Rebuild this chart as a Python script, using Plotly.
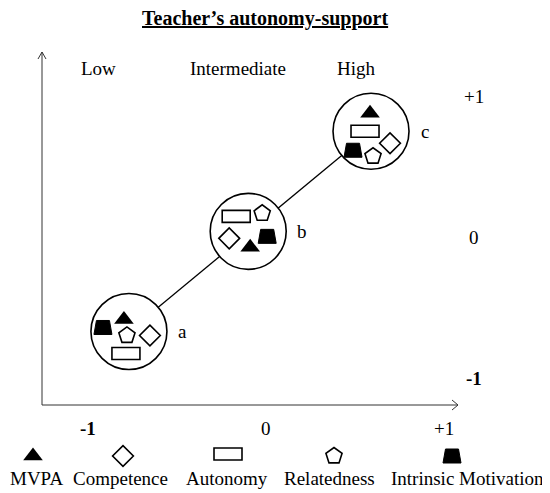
import plotly.graph_objects as go

# three profiles placed on the -1..+1 grid
profiles = ["a", "b", "c"]
levels = ["Low", "Intermediate", "High"]
profile_x = [-0.77, -0.10, 0.59]
profile_y = [-0.67, 0.04, 0.75]

measures = ["MVPA", "Competence", "Autonomy", "Relatedness", "Intrinsic Motivation"]
tick_vals = [-1, 0, 1]
tick_text = ["<b>-1</b>", "0", "+1"]

# picture scale: pixel of the grid centre and pixels per unit
XC, XU = 266, 178
YC, YU = 237, 141
OFF = 8  # page margin of the html body
W, H = 550 - OFF, 493 - OFF


def px(p):
    return (p - XC) / XU


def py(p):
    return (YC - p) / YU


FONT = "Liberation Serif"

# where each symbol sits inside the circle (pixels, y downwards)
offsets = {
    "MVPA": [(-5, -12), (2, 16), (-1, -18)],
    "Competence": [(21, 4), (-19, 7), (19, 12)],
    "Autonomy": [(-3, 22), (-12, -15), (-6, 0)],
    "Relatedness": [(-2, 4), (14, -18), (2, 25)],
    "Intrinsic Motivation": [(-26, -4), (19, 5), (-18, 19)],
}
symbols = {
    "MVPA": dict(symbol="triangle-up", size=17, color="black"),
    "Competence": dict(symbol="diamond-open", size=16, color="black", line=dict(width=1.6)),
    "Relatedness": dict(symbol="pentagon-open", size=17, color="black", line=dict(width=1.6)),
}
legend_sym_x = [33, 123, 228, 334, 452]
legend_lab_x = [36, 120, 227, 329, 467]
legend_sym_y = 456
legend_lab_y = 478

fig = go.Figure()
shapes = []

# connecting line a -> c, then the white circles on top of it
shapes.append(dict(type="line", layer="below", x0=profile_x[0], y0=profile_y[0],
                   x1=profile_x[-1], y1=profile_y[-1], line=dict(color="black", width=1.3)))
for cx, cy in zip(profile_x, profile_y):
    shapes.append(dict(type="circle", layer="below", xsizemode="pixel", ysizemode="pixel",
                       xanchor=cx, yanchor=cy, x0=-38, x1=38, y0=-38, y1=38,
                       fillcolor="white", line=dict(color="black", width=1.6)))


def rect(xa, ya, dx, dy):
    return dict(type="rect", xsizemode="pixel", ysizemode="pixel", xanchor=xa, yanchor=ya,
                x0=dx - 14, x1=dx + 14, y0=-dy - 6, y1=-dy + 6,
                fillcolor="white", line=dict(color="black", width=1.6))


def trapezoid(xa, ya, dx, dy):
    y = -dy
    path = (f"M {dx-9},{y-7} L {dx+9},{y-7} L {dx+6.5},{y+7} L {dx-6.5},{y+7} Z")
    return dict(type="path", xsizemode="pixel", ysizemode="pixel", xanchor=xa, yanchor=ya,
                path=path, fillcolor="black", line=dict(color="black", width=1))


for m in measures:
    offs = offsets[m]
    if m in symbols:
        xs = [profile_x[i] + offs[i][0] / XU for i in range(3)]
        ys = [profile_y[i] - offs[i][1] / YU for i in range(3)]
        fig.add_trace(go.Scatter(x=xs, y=ys, mode="markers", marker=symbols[m],
                                 hoverinfo="skip", showlegend=False))
    elif m == "Autonomy":
        for i in range(3):
            shapes.append(rect(profile_x[i], profile_y[i], *offs[i]))
    else:
        for i in range(3):
            shapes.append(trapezoid(profile_x[i], profile_y[i], *offs[i]))

# legend row
for m, lx in zip(measures, legend_sym_x):
    if m in symbols:
        fig.add_trace(go.Scatter(x=[px(lx)], y=[py(legend_sym_y)], mode="markers",
                                 marker=symbols[m], hoverinfo="skip", showlegend=False))
    elif m == "Autonomy":
        shapes.append(rect(px(lx), py(legend_sym_y - 2), 0, 0))
    else:
        shapes.append(trapezoid(px(lx), py(legend_sym_y), 0, 0))

# axes with open arrow heads
ax_col = "#333333"
x_org, y_org = px(42), py(405)
x_end, y_top = px(458), py(52)
shapes.append(dict(type="line", x0=x_org, y0=y_org, x1=x_end, y1=y_org, line=dict(color=ax_col, width=1)))
shapes.append(dict(type="line", x0=x_org, y0=y_org, x1=x_org, y1=y_top, line=dict(color=ax_col, width=1)))
shapes.append(dict(type="path", xsizemode="pixel", ysizemode="pixel", xanchor=x_end, yanchor=y_org,
                   path="M -6,5 L 0,0 L -6,-5", line=dict(color=ax_col, width=1)))
shapes.append(dict(type="path", xsizemode="pixel", ysizemode="pixel", xanchor=x_org, yanchor=y_top,
                   path="M -4,-7 L 0,0 L 4,-7", line=dict(color=ax_col, width=1)))

ann = []


def text(x, y, t, size=19, xanchor="center"):
    ann.append(dict(x=x, y=y, text=t, showarrow=False, xanchor=xanchor, yanchor="middle",
                    font=dict(family=FONT, size=size, color="black")))


text(px(265), py(18), "<b><u>Teacher’s autonomy-support</u></b>", size=20)
for lv, cx in zip(levels, [98, 238, 356]):
    text(px(cx), py(68), lv)
for p, cx, cy in zip(profiles, profile_x, profile_y):
    text(cx + 54 / XU, cy, p)
for v, t in zip(tick_vals, tick_text):
    text(v, py(428), t)
    text(px(474), v, t)
for m, lx in zip(measures, legend_lab_x):
    text(px(lx), py(legend_lab_y), m)

fig.update_layout(
    width=W, height=H, margin=dict(l=0, r=0, t=0, b=0),
    paper_bgcolor="white", plot_bgcolor="white",
    shapes=shapes, annotations=ann, showlegend=False,
    xaxis=dict(range=[px(OFF), px(OFF + W)], visible=False, fixedrange=True),
    yaxis=dict(range=[py(OFF + H), py(OFF)], visible=False, fixedrange=True),
)

fig.write_html("out.html")
